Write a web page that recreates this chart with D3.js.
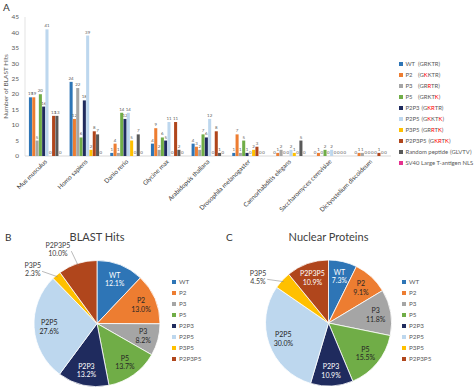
<!DOCTYPE html>
<html>
<head>
<meta charset="utf-8">
<script src="https://cdn.jsdelivr.net/npm/d3@7"></script>
<style>
  body { margin: 0; background: #fff; }
  svg { display: block; font-family: Lato, "Open Sans", sans-serif; }
</style>
</head>
<body>
<div id="chart"></div>
<script>
const width = 474;
const height = 390;

// organisms on the x axis
const organisms = ["Mus musculus", "Homo sapiens", "Danio rerio", "Glycine max", "Arabidopsis thaliana",
  "Drosophila melanogaster", "Caenorhabditis elegans", "Saccharomyces cerevisiae", "Dictyostelium discoideum"];

// BLAST hits per peptide, one value per organism
const wt      = [19, 24, 1, 4, 4, 1, 0, 0, 0];
const p2      = [19, 12, 4, 9, 3, 7, 1, 1, 1];
const p3      = [5, 22, 1, 2, 2, 1, 2, 0, 1];
const p5      = [20, 6, 14, 6, 7, 5, 0, 2, 0];
const p2p3    = [16, 18, 12, 5, 6, 1, 0, 0, 0];
const p2p5    = [41, 39, 14, 11, 12, 0, 2, 2, 0];
const p3p5    = [0, 2, 5, 0, 0, 2, 1, 0, 0];
const p2p3p5  = [13, 8, 0, 11, 8, 3, 0, 0, 1];
const random  = [13, 7, 7, 2, 1, 0, 5, 0, 0];
const sv40    = [0, 0, 0, 0, 0, 0, 0, 0, 0];

const seriesNames = ["WT", "P2", "P3", "P5", "P2P3", "P2P5", "P3P5", "P2P3P5", "Random peptide", "SV40 Large T-antigen NLS"];
const motifs = ["GRKTR", "GKKTR", "GRRTR", "GRKTK", "GKRTR", "GKKTK", "GRRTK", "GKRTK", "GLVTV", ""];
const seriesValues = [wt, p2, p3, p5, p2p3, p2p5, p3p5, p2p3p5, random, sv40];
const colors = ["#2e75b6", "#ed7d31", "#a5a5a5", "#70ad47", "#1f2b5e", "#bdd7ee", "#ffc000", "#b0461c", "#595959", "#e5318f"];

const yTicks = [0, 5, 10, 15, 20, 25, 30, 35, 40, 45];

// pie charts
const pieNames = ["WT", "P2", "P3", "P5", "P2P3", "P2P5", "P3P5", "P2P3P5"];
const blastPct = [12.1, 13.0, 8.2, 13.7, 13.2, 27.6, 2.3, 10.0];
const nuclearPct = [7.3, 9.1, 11.8, 15.5, 10.9, 30.0, 4.5, 10.9];
const blastOutside = ["P3P5", "P2P3P5"];
const nuclearOutside = ["P3P5"];
const whiteLabels = ["WT", "P2P3", "P2P3P5"];

const svg = d3.select("#chart").append("svg")
  .attr("width", width)
  .attr("height", height);

// ---------- panel A: grouped bars ----------
const x0 = d3.scaleBand()
  .domain(organisms)
  .range([25, 391])
  .paddingInner(0.18)
  .paddingOuter(0.09);

const x1 = d3.scaleBand()
  .domain(d3.range(seriesNames.length))
  .range([0, x0.bandwidth()])
  .padding(0.08);

const y = d3.scaleLinear()
  .domain([0, 45])
  .range([156, 17]);

svg.append("text")
  .attr("x", 3).attr("y", 11)
  .style("font-size", "10px").attr("fill", "#333")
  .text("A");

svg.append("line")
  .attr("x1", 25).attr("x2", 25)
  .attr("y1", y(45)).attr("y2", y(0))
  .attr("stroke", "#e3e3e3");

svg.append("line")
  .attr("x1", 25).attr("x2", 391)
  .attr("y1", y(0)).attr("y2", y(0))
  .attr("stroke", "#d9d9d9");

svg.append("g").selectAll("text")
  .data(yTicks)
  .join("text")
  .attr("x", 19)
  .attr("y", d => y(d))
  .attr("dy", "0.35em")
  .attr("text-anchor", "end")
  .style("font-size", "6.5px")
  .attr("fill", "#595959")
  .text(d => d);

svg.append("text")
  .attr("transform", `translate(8,${y(22.5)}) rotate(-90)`)
  .attr("text-anchor", "middle")
  .style("font-size", "6.5px")
  .attr("fill", "#595959")
  .text("Number of BLAST Hits");

const groups = svg.append("g").selectAll("g")
  .data(organisms)
  .join("g")
  .attr("transform", d => `translate(${x0(d)},0)`);

const cells = groups.selectAll("g")
  .data((d, i) => seriesValues.map((vals, s) => ({ s, v: vals[i] })))
  .join("g");

cells.append("rect")
  .attr("x", d => x1(d.s))
  .attr("y", d => y(d.v))
  .attr("width", x1.bandwidth())
  .attr("height", d => y(0) - y(d.v))
  .attr("fill", d => colors[d.s]);

cells.append("text")
  .attr("x", d => x1(d.s) + x1.bandwidth() / 2)
  .attr("y", d => y(d.v) - 2)
  .attr("text-anchor", "middle")
  .style("font-size", "4.4px")
  .attr("fill", "#595959")
  .text(d => d.v);

svg.append("g").selectAll("text")
  .data(organisms)
  .join("text")
  .attr("transform", d => `translate(${x0(d) + x0.bandwidth() / 2 + 2},162) rotate(-45)`)
  .attr("text-anchor", "end")
  .style("font-size", "6.3px")
  .attr("fill", "#404040")
  .text(d => d);

// legend for A
const legA = svg.append("g").selectAll("g")
  .data(seriesNames)
  .join("g")
  .attr("transform", (d, i) => `translate(399,${64 + i * 11})`);

legA.append("rect")
  .attr("x", 0).attr("y", -2)
  .attr("width", 4).attr("height", 4)
  .attr("fill", (d, i) => colors[i]);

legA.each(function (name, i) {
  const t = d3.select(this).append("text")
    .attr("x", 6.5).attr("dy", "0.35em")
    .style("font-size", "5.9px")
    .attr("fill", "#595959");
  t.append("tspan").text(name);
  const m = motifs[i];
  if (!m) return;
  const short = name.length <= 2;
  t.append("tspan").attr("x", short ? 19 : null).attr("dx", short ? null : 2).text("(");
  m.split("").forEach((ch, k) => {
    const mutated = i < 8 && ch !== motifs[0][k];
    t.append("tspan").attr("fill", mutated ? "#ff0000" : "#595959").text(ch);
  });
  t.append("tspan").text(")");
});

// ---------- panels B and C: pies ----------
function drawPie(cx, cy, r, title, letter, letterX, pct, outside, legendX) {
  svg.append("text")
    .attr("x", letterX).attr("y", 241)
    .style("font-size", "10px").attr("fill", "#333")
    .text(letter);

  svg.append("text")
    .attr("x", cx).attr("y", 241)
    .attr("text-anchor", "middle")
    .style("font-size", "11px").attr("fill", "#404040")
    .text(title);

  const data = pieNames.map((n, i) => ({ name: n, value: pct[i], color: colors[i] }));
  const arcs = d3.pie().sort(null).value(d => d.value)(data);
  const arc = d3.arc().innerRadius(0).outerRadius(r);
  const inner = d3.arc().innerRadius(r * 0.76).outerRadius(r * 0.76);

  const g = svg.append("g").attr("transform", `translate(${cx},${cy})`);

  g.selectAll("path")
    .data(arcs)
    .join("path")
    .attr("d", arc)
    .attr("fill", d => d.data.color)
    .attr("stroke", "#fff")
    .attr("stroke-width", 0.8);

  arcs.forEach(a => {
    const out = outside.includes(a.data.name);
    const mid = (a.startAngle + a.endAngle) / 2;
    let px, py;
    if (out) {
      const ang = mid - 0.17;
      px = Math.sin(ang) * (r + 21);
      py = -Math.cos(ang) * (r + 21);
    } else {
      [px, py] = inner.centroid(a);
    }
    const fill = out ? "#404040" : (whiteLabels.includes(a.data.name) ? "#fff" : "#262626");
    const t = g.append("text")
      .attr("text-anchor", "middle")
      .style("font-size", "7px")
      .attr("fill", fill);
    t.append("tspan").attr("x", px).attr("y", py - 1.5).text(a.data.name);
    t.append("tspan").attr("x", px).attr("y", py + 7).text(a.data.value.toFixed(1) + "%");
    if (out) {
      const w = t.node().getBBox().width / 2;
      g.append("line")
        .attr("x1", px + w + 1).attr("y1", py + 2)
        .attr("x2", Math.sin(mid) * (r - 2)).attr("y2", -Math.cos(mid) * (r - 2))
        .attr("stroke", "#8c8c8c")
        .attr("stroke-width", 0.6);
    }
  });

  const leg = svg.append("g").selectAll("g")
    .data(pieNames)
    .join("g")
    .attr("transform", (d, i) => `translate(${legendX},${282 + i * 11})`);
  leg.append("rect")
    .attr("x", 0).attr("y", -2)
    .attr("width", 4).attr("height", 4)
    .attr("fill", (d, i) => colors[i]);
  leg.append("text")
    .attr("x", 7).attr("dy", "0.35em")
    .style("font-size", "6.3px")
    .attr("fill", "#595959")
    .text(d => d);
}

drawPie(97, 323.5, 63, "BLAST Hits", "B", 5, blastPct, blastOutside, 172);
drawPie(328.5, 323, 63, "Nuclear Proteins", "C", 226, nuclearPct, nuclearOutside, 402);
</script>
</body>
</html>
